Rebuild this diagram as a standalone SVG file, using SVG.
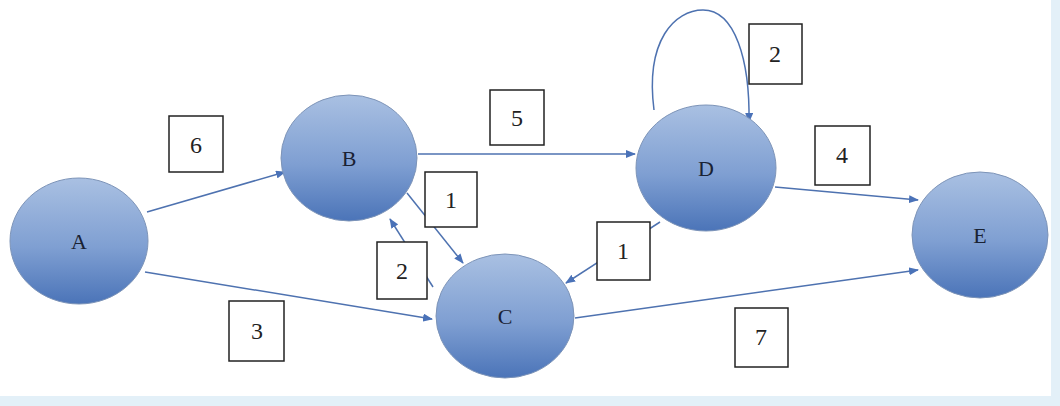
<svg xmlns="http://www.w3.org/2000/svg" width="1060" height="406" viewBox="0 0 1060 406">
<defs>
<linearGradient id="g" x1="0" y1="0" x2="0" y2="1">
<stop offset="0" stop-color="#a9c0e2"/>
<stop offset="0.55" stop-color="#7f9fd2"/>
<stop offset="1" stop-color="#4b74b8"/>
</linearGradient>
<marker id="ah" markerWidth="10" markerHeight="8" refX="9" refY="4" orient="auto" markerUnits="userSpaceOnUse">
<path d="M0,0 L10,4 L0,8 z" fill="#4a72b8"/>
</marker>
</defs>
<style>
.n{fill:url(#g);stroke:#7d94b8;stroke-width:1}
.nt{font-family:"Liberation Serif",serif;font-size:22px;fill:#1a2233;text-anchor:middle}
.e{stroke:#4e72b0;stroke-width:1.5;fill:none;marker-end:url(#ah)}
.b{fill:#fff;stroke:#222;stroke-width:1.5}
.bt{font-family:"Liberation Serif",serif;font-size:24px;fill:#222;text-anchor:middle}
</style>
<rect width="1060" height="406" fill="#e3f0f8"/>
<rect width="1051" height="396" fill="#fff"/>
<g id="connectors">
<line class="e" x1="147" y1="212" x2="285" y2="172"/>
<line class="e" x1="145" y1="272" x2="432" y2="319"/>
<line class="e" x1="418" y1="154" x2="635" y2="154"/>
<line class="e" x1="407" y1="193" x2="463" y2="263"/>
<line class="e" x1="433" y1="287" x2="390" y2="219"/>
<line class="e" x1="660" y1="222" x2="566" y2="283"/>
<line class="e" x1="775" y1="187" x2="918" y2="200"/>
<line class="e" x1="575" y1="318" x2="918" y2="270"/>
<path class="e" d="M654,110 C645,40 675,10 703,10 C735,10 750,60 749,122"/>
</g>
<g id="A"><ellipse class="n" cx="79" cy="241" rx="69" ry="63"/><text class="nt" x="79" y="249">A</text></g>
<g id="B"><ellipse class="n" cx="349" cy="158" rx="68" ry="63"/><text class="nt" x="349" y="166">B</text></g>
<g id="C"><ellipse class="n" cx="505" cy="316" rx="69" ry="62"/><text class="nt" x="505" y="324">C</text></g>
<g id="D"><ellipse class="n" cx="706" cy="168" rx="70" ry="63"/><text class="nt" x="706" y="176">D</text></g>
<g id="E"><ellipse class="n" cx="980" cy="235" rx="68" ry="63"/><text class="nt" x="980" y="243">E</text></g>
<g id="labels">
<g id="l6"><rect class="b" x="169" y="116" width="54" height="56"/><text class="bt" x="196" y="153">6</text></g>
<g id="l5"><rect class="b" x="490" y="90" width="54" height="55"/><text class="bt" x="517" y="126">5</text></g>
<g id="l1a"><rect class="b" x="425" y="172" width="52" height="55"/><text class="bt" x="451" y="208">1</text></g>
<g id="l2a"><rect class="b" x="377" y="242" width="50" height="57"/><text class="bt" x="402" y="279">2</text></g>
<g id="l3"><rect class="b" x="229" y="301" width="55" height="60"/><text class="bt" x="257" y="339">3</text></g>
<g id="l1b"><rect class="b" x="597" y="222" width="53" height="58"/><text class="bt" x="623" y="259">1</text></g>
<g id="l2b"><rect class="b" x="749" y="24" width="53" height="60"/><text class="bt" x="775" y="62">2</text></g>
<g id="l4"><rect class="b" x="815" y="126" width="55" height="59"/><text class="bt" x="842" y="163">4</text></g>
<g id="l7"><rect class="b" x="735" y="308" width="53" height="59"/><text class="bt" x="761" y="345">7</text></g>
</g>
</svg>
